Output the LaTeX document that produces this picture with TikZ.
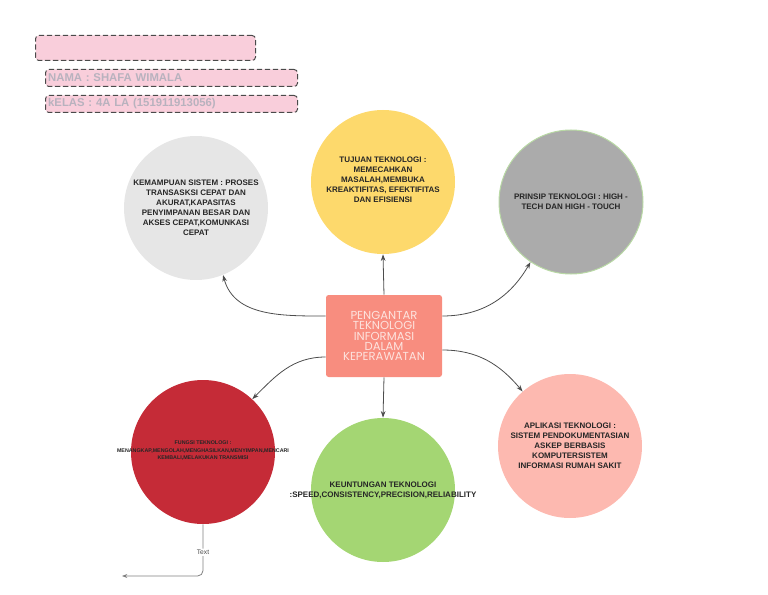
\documentclass[tikz,border=0pt]{standalone}
\usepackage{fontspec}
\setmainfont{Liberation Sans}
\newfontfamily\roundfont{Poppins}
\usetikzlibrary{arrows.meta,positioning}

\definecolor{headerpink}{HTML}{F9CEDB}
\definecolor{headertext}{HTML}{B8B2BE}
\definecolor{dashgray}{HTML}{4A4A4A}
\definecolor{linegray}{HTML}{4D4D4D}
\definecolor{kemampuanfill}{HTML}{E6E6E6}
\definecolor{tujuanfill}{HTML}{FDD96C}
\definecolor{prinsipfill}{HTML}{ABABAB}
\definecolor{prinsipline}{HTML}{B9D9A5}
\definecolor{pengantarfill}{HTML}{F88D7F}
\definecolor{pengantartext}{HTML}{FDE3DE}
\definecolor{fungsifill}{HTML}{C52B37}
\definecolor{keuntunganfill}{HTML}{A4D673}
\definecolor{aplikasifill}{HTML}{FDB9B0}

\begin{document}
\begin{tikzpicture}[x=0.75pt,y=0.75pt,
    arrowstyle/.style={draw=linegray, line width=0.6pt, -{Stealth[length=5pt,width=3.5pt]}},
    textline/.style={draw=gray, line width=0.6pt, rounded corners=4pt, -{Stealth[length=4pt,width=3pt]}},
    topic/.style={circle, minimum size=108pt, inner sep=0pt},
    topictext/.style={align=center, text=black!85, font=\bfseries\fontsize{6}{7.5}\selectfont},
    header/.style={rectangle, draw=dashgray, dashed, dash pattern=on 4pt off 2pt,
        line width=0.75pt, rounded corners=2.5pt, fill=headerpink, anchor=north west,
        inner sep=2pt, text=headertext, align=left, font=\bfseries\fontsize{8.5}{10}\selectfont},
    mainbox/.style={rectangle, rounded corners=2pt, fill=pengantarfill, minimum width=87pt,
        minimum height=61.5pt, align=center, text=pengantartext,
        font=\roundfont\fontsize{8.7}{7.8}\selectfont}
]
\useasboundingbox (0,0) rectangle (768,594);

% header
\node (Judul) [header, minimum width=165pt, minimum height=18.75pt] at (35,559) {};
\node (Nama) [header, minimum width=189pt, minimum height=12.75pt, text width=185pt] at (45,525) {NAMA : SHAFA WIMALA};
\node (Kelas) [header, minimum width=189pt, minimum height=12.75pt, text width=185pt] at (45,499) {kELAS : 4A LA (151911913056)};

% topics
\node (Pengantar) [mainbox] at (384,258) {PENGANTAR\\TEKNOLOGI\\INFORMASI\\DALAM\\KEPERAWATAN};
\node (Kemampuan) [topic, fill=kemampuanfill, label={[topictext]center:KEMAMPUAN SISTEM : PROSES\\TRANSASKSI CEPAT DAN\\AKURAT,KAPASITAS\\PENYIMPANAN BESAR DAN\\AKSES CEPAT,KOMUNKASI\\CEPAT}] at (196,386) {};
\node (Tujuan) [topic, fill=tujuanfill, label={[topictext, yshift=2pt]center:TUJUAN TEKNOLOGI :\\MEMECAHKAN\\MASALAH,MEMBUKA\\KREAKTIFITAS, EFEKTIFITAS\\DAN EFISIENSI}] at (383,412) {};
\node (Prinsip) [topic, fill=prinsipfill, draw=prinsipline, line width=0.75pt, label={[topictext]center:PRINSIP TEKNOLOGI : HIGH -\\TECH DAN HIGH - TOUCH}] at (571,392) {};
\node (Fungsi) [topic, fill=fungsifill, label={[topictext, yshift=1pt, font=\bfseries\fontsize{4}{5.5}\selectfont]center:FUNGSI TEKNOLOGI :\\MENANGKAP,MENGOLAH,MENGHASILKAN,MENYIMPAN,MENCARI\\KEMBALI,MELAKUKAN TRANSMISI}] at (203,142) {};
\node (Keuntungan) [topic, fill=keuntunganfill, label={[topictext]center:KEUNTUNGAN TEKNOLOGI\\:SPEED,CONSISTENCY,PRECISION,RELIABILITY}] at (383,104) {};
\node (Aplikasi) [topic, fill=aplikasifill, label={[topictext]center:APLIKASI TEKNOLOGI :\\SISTEM PENDOKUMENTASIAN\\ASKEP BERBASIS\\KOMPUTERSISTEM\\INFORMASI RUMAH SAKIT}] at (570,148) {};
\coordinate (TextEnd) at (122,18);

% connectors
\draw[arrowstyle] (Pengantar.north) -- (Tujuan.south);
\draw[arrowstyle] (Pengantar.south) -- (Keuntungan.north);
\draw[arrowstyle] ([yshift=15pt]Pengantar.west) to[out=180,in=-75] (Kemampuan.-68);
\draw[arrowstyle] ([yshift=15pt]Pengantar.east) to[out=0,in=-120] (Prinsip.-124);
\draw[arrowstyle] ([yshift=-15.75pt]Pengantar.west) to[out=180,in=45] (Fungsi.47);
\draw[arrowstyle] ([yshift=-10.5pt]Pengantar.east) to[out=0,in=130] (Aplikasi.131);
\draw[textline] (Fungsi.south) |- node[pos=0.27, fill=white, inner sep=1pt, text=black!70,
    font=\fontsize{5}{6}\selectfont] {Text} (TextEnd);
\end{tikzpicture}
\end{document}
